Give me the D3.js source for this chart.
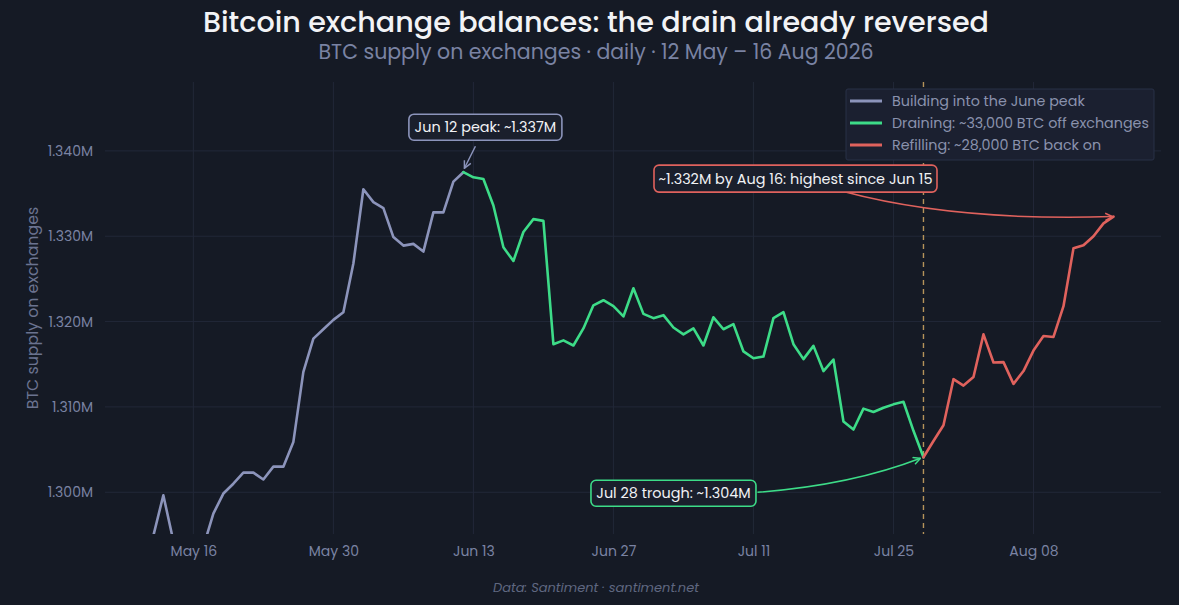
<!DOCTYPE html>
<html><head><meta charset="utf-8">
<script src="https://cdn.jsdelivr.net/npm/d3@7"></script>
<style>
html,body{margin:0;padding:0;background:#151a25;}
svg{display:block;font-family:Poppins,Inter,"Noto Sans",sans-serif;}
</style></head><body>
<svg id="c" width="1179" height="605"></svg>
<script>
// ---- data ----
const startDate = "2026-05-12";
const supply = [
 1294900,1299650,1294300,1293000,1292600,1293600,1297500,1299850,1301000,1302300,
 1302300,1301500,1303000,1303000,1305900,1314100,1318000,1319100,1320200,1321100,
 1326800,1335500,1334000,1333300,1329900,1328900,1329100,1328200,1332800,1332800,
 1336400,1337500,1336900,1336700,1333600,1328700,1327100,1330500,1332000,1331800,
 1317350,1317800,1317200,1319200,1321900,1322500,1321800,1320600,1323900,1320900,
 1320400,1320750,1319300,1318500,1319200,1317200,1320500,1319100,1319700,1316500,
 1315700,1315900,1320400,1321100,1317350,1315600,1317150,1314200,1315550,1308300,
 1307350,1309800,1309400,1309900,1310300,1310600,1307200,1304100,1306000,1307850,
 1313250,1312500,1313500,1318500,1315200,1315250,1312700,1314200,1316600,1318300,
 1318200,1321800,1328600,1328950,1330000,1331500,1332300
];
const phaseNames = ["Building into the June peak","Draining: ~33,000 BTC off exchanges","Refilling: ~28,000 BTC back on"];
const phaseColors = ["#8c94bb","#3ddc88","#e0625d"];
const phaseBounds = [["2026-05-12","2026-06-12"],["2026-06-12","2026-07-28"],["2026-07-28","2026-08-16"]];
const yTicks = [1300000,1310000,1320000,1330000,1340000];
const xTickDates = ["2026-05-16","2026-05-30","2026-06-13","2026-06-27","2026-07-11","2026-07-25","2026-08-08"];
const peakDate = "2026-06-12", troughDate = "2026-07-28", endDate = "2026-08-16";

// ---- setup ----
const parse = d3.utcParse("%Y-%m-%d");
const t0 = parse(startDate);
const rows = supply.map((v,i)=>({date:d3.utcDay.offset(t0,i), value:v}));
const W=1179,H=605;
const M={left:105,right:1161,top:82,bottom:534};
const svg=d3.select("#c");
const bg="#151a25";
svg.append("rect").attr("width",W).attr("height",H).attr("fill",bg);

const x=d3.scaleUtc()
  .domain([d3.utcHour.offset(t0,-116), d3.utcHour.offset(t0,100.77*24)])
  .range([M.left,M.right]);
const y=d3.scaleLinear().domain([1295110,1348070]).range([M.bottom,M.top]);

// grid
const g=svg.append("g");
g.selectAll(".hg").data(yTicks).join("line")
 .attr("x1",M.left).attr("x2",M.right).attr("y1",d=>y(d)).attr("y2",d=>y(d))
 .attr("stroke","#222838").attr("stroke-width",1);
g.selectAll(".vg").data(xTickDates.map(parse)).join("line")
 .attr("y1",M.top).attr("y2",M.bottom).attr("x1",d=>x(d)).attr("x2",d=>x(d))
 .attr("stroke","#222838").attr("stroke-width",1);

// axes
const yAxis=d3.axisLeft(y).tickValues(yTicks).tickSize(0).tickPadding(12)
  .tickFormat(d=>d3.format(".3f")(d/1e6)+"M");
const ya=svg.append("g").attr("transform",`translate(${M.left},0)`).call(yAxis);
ya.select(".domain").remove();
ya.selectAll("text").attr("fill","#7a83a3").attr("font-size",14).attr("font-family","Poppins,Inter,sans-serif");

const xAxis=d3.axisBottom(x).tickValues(xTickDates.map(parse)).tickSize(0).tickPadding(12)
  .tickFormat(d3.utcFormat("%b %d"));
const xa=svg.append("g").attr("transform",`translate(0,${M.bottom})`).call(xAxis);
xa.select(".domain").remove();
xa.selectAll("text").attr("fill","#7a83a3").attr("font-size",14).attr("font-family","Poppins,Inter,sans-serif");

// y title
svg.append("text").attr("transform",`translate(38,${(M.top+M.bottom)/2}) rotate(-90)`)
 .attr("text-anchor","middle").attr("fill","#6b7390").attr("font-size",15.8)
 .text("BTC supply on exchanges");

// clip
svg.append("clipPath").attr("id","clip").append("rect")
 .attr("x",M.left).attr("y",M.top).attr("width",M.right-M.left).attr("height",M.bottom-M.top);

// trough marker
svg.append("line").attr("x1",x(parse(troughDate))).attr("x2",x(parse(troughDate)))
 .attr("y1",M.top).attr("y2",M.bottom).attr("stroke","#b5935a").attr("stroke-width",1.4)
 .attr("stroke-dasharray","5,4");

// lines
const line=d3.line().x(d=>x(d.date)).y(d=>y(d.value));
const lg=svg.append("g").attr("clip-path","url(#clip)");
phaseBounds.forEach((b,i)=>{
  const a=parse(b[0]), e=parse(b[1]);
  const seg=rows.filter(r=>r.date>=a && r.date<=e);
  lg.append("path").datum(seg).attr("d",line).attr("fill","none")
    .attr("stroke",phaseColors[i]).attr("stroke-width",2.6)
    .attr("stroke-linejoin","round").attr("stroke-linecap","round");
});

// arrow markers
const defs=svg.append("defs");
phaseColors.forEach((c,i)=>{
  defs.append("marker").attr("id","ar"+i).attr("viewBox","0 0 10 10")
   .attr("refX",9).attr("refY",5).attr("markerWidth",9).attr("markerHeight",9)
   .attr("markerUnits","userSpaceOnUse").attr("orient","auto")
   .append("path").attr("d","M1,1 L9,5 L1,9").attr("fill","none").attr("stroke",c).attr("stroke-width",1.6);
});

function valAt(ds){const dt=parse(ds);return rows.find(r=>+r.date===+dt);}
function box(cx,cy,w,h,txt,col){
  const gg=svg.append("g");
  gg.append("rect").attr("x",cx-w/2).attr("y",cy-h/2).attr("width",w).attr("height",h)
    .attr("rx",5).attr("fill","#1a1f2c").attr("stroke",col).attr("stroke-width",1.6);
  gg.append("text").attr("x",cx).attr("y",cy).attr("dy","0.36em").attr("text-anchor","middle")
    .attr("fill","#f1f2f5").attr("font-size",14.4).text(txt);
}

// peak annotation
const pk=valAt(peakDate), px=x(pk.date), py=y(pk.value);
svg.append("path").attr("d",`M${px+12},${py-26} L${px+1},${py-4}`).attr("stroke",phaseColors[0])
 .attr("stroke-width",1.5).attr("fill","none").attr("marker-end","url(#ar0)");
box(px+22,py-45,153,26,"Jun 12 peak: ~1.337M",phaseColors[0]);

// end annotation
const en=valAt(endDate), ex=x(en.date), ey=y(en.value);
svg.append("path").attr("d",`M${ex-270},${ey-25} Q${ex-158},${ey+5} ${ex-1},${ey}`).attr("stroke",phaseColors[2])
 .attr("stroke-width",1.5).attr("fill","none").attr("marker-end","url(#ar2)");
box(ex-318,ey-38,283,27,"~1.332M by Aug 16: highest since Jun 15",phaseColors[2]);

// trough annotation
const tr=valAt(troughDate), tx=x(tr.date), ty=y(tr.value);
svg.append("path").attr("d",`M${tx-166},${ty+35} Q${tx-73},${ty+28} ${tx-3},${ty+1}`).attr("stroke",phaseColors[1])
 .attr("stroke-width",1.5).attr("fill","none").attr("marker-end","url(#ar1)");
box(tx-250,ty+36,165,26,"Jul 28 trough: ~1.304M",phaseColors[1]);

// legend
const L=svg.append("g").attr("transform","translate(846,89)");
L.append("rect").attr("width",308).attr("height",71).attr("rx",2).attr("fill","#1b2030").attr("stroke","#283047").attr("stroke-width",1);
phaseNames.forEach((n,i)=>{
  const yy=12+i*22;
  L.append("line").attr("x1",4).attr("x2",36).attr("y1",yy).attr("y2",yy).attr("stroke",phaseColors[i]).attr("stroke-width",3);
  L.append("text").attr("x",46).attr("y",yy).attr("dy","0.35em").attr("fill","#8a92ad").attr("font-size",14.3).text(n);
});

// titles
svg.append("text").attr("x",596).attr("y",32).attr("text-anchor","middle").attr("fill","#f2f3f6")
 .attr("font-size",28.6).attr("font-weight",500).text("Bitcoin exchange balances: the drain already reversed");
svg.append("text").attr("x",596).attr("y",59).attr("text-anchor","middle").attr("fill","#7a83a3")
 .attr("font-size",20.5).text("BTC supply on exchanges · daily · 12 May – 16 Aug 2026");
svg.append("text").attr("x",596).attr("y",592).attr("text-anchor","middle").attr("fill","#5f6780")
 .attr("font-size",13).attr("font-style","italic").text("Data: Santiment · santiment.net");
</script></body></html>
